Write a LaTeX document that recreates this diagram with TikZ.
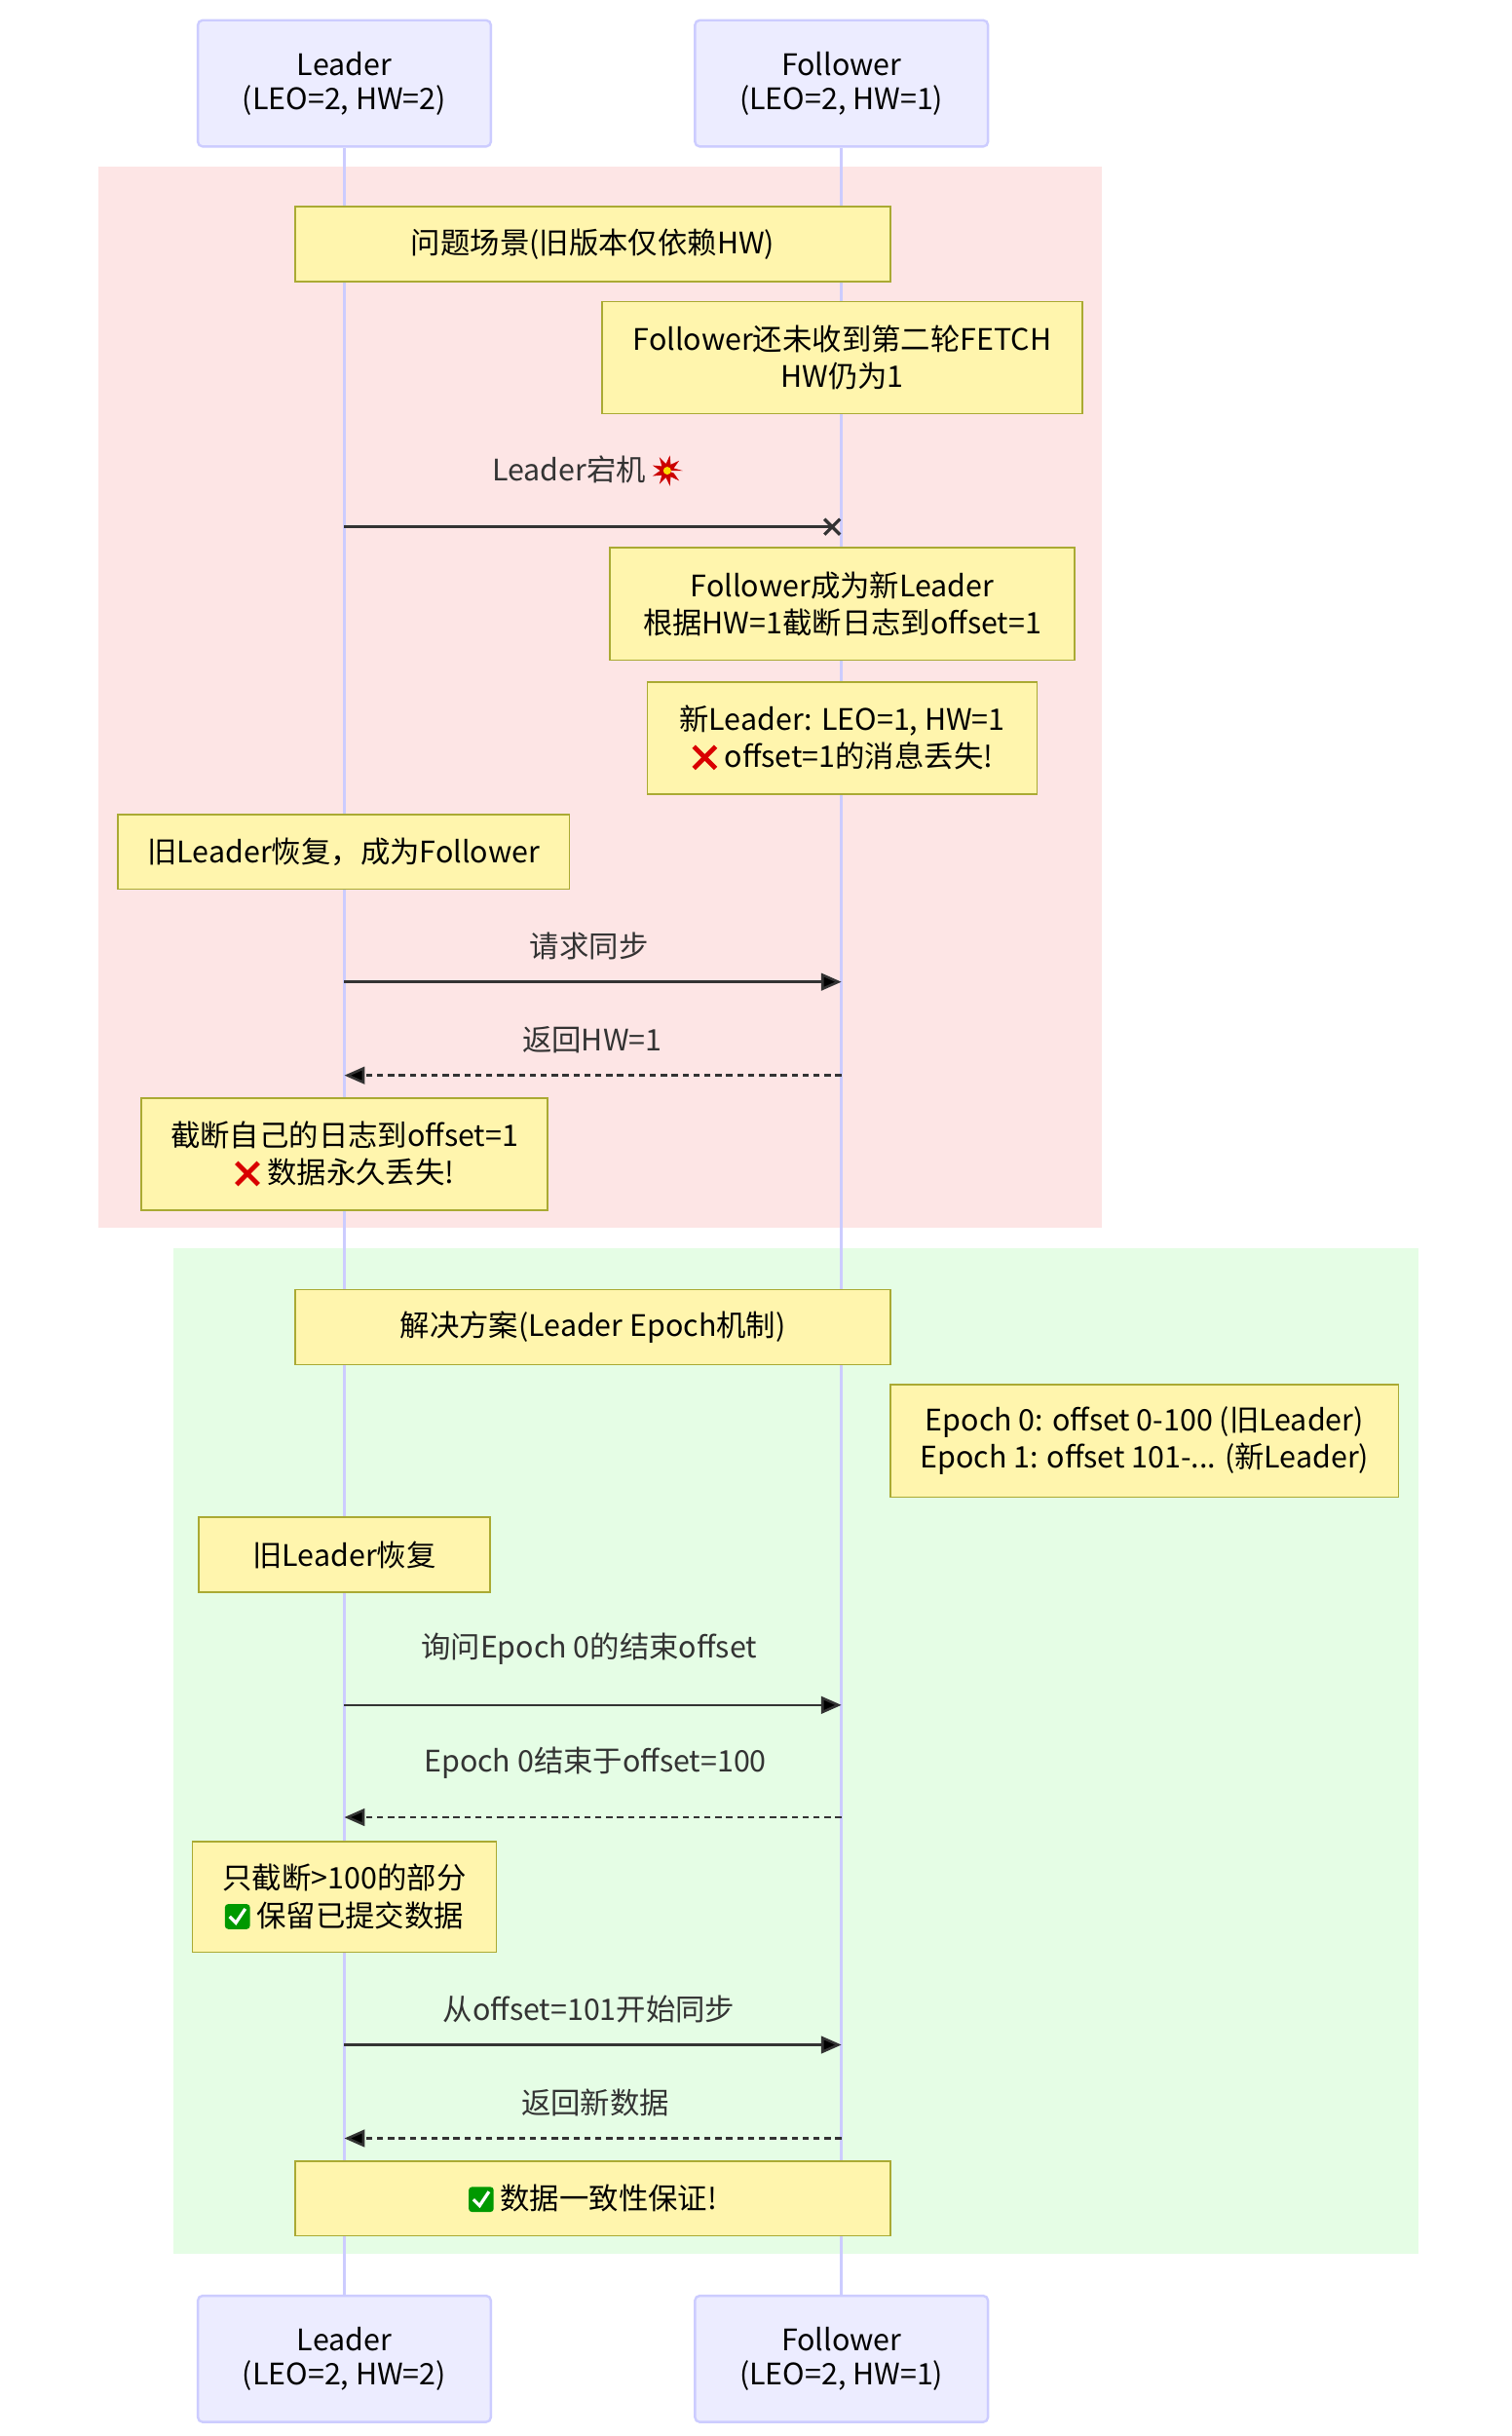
\documentclass[tikz,border=0pt]{standalone}
\usepackage{fontspec}
\setmainfont{Noto Sans CJK SC}
\usetikzlibrary{arrows.meta,shapes.misc}
\definecolor{actfill}{HTML}{ECECFF}
\definecolor{actdraw}{HTML}{CCCCFF}
\definecolor{notefill}{HTML}{FFF5AD}
\definecolor{notedraw}{HTML}{AAAA33}
\definecolor{pinkbg}{HTML}{FDE5E5}
\definecolor{greenbg}{HTML}{E5FDE5}
\definecolor{txt}{HTML}{333333}
\newcommand{\redx}{\tikz[baseline=-6.5pt,x=1pt,y=1pt]{\draw[red!85!black,line width=3pt] (0,-7)--(14,7) (0,7)--(14,-7);}}
\newcommand{\okbox}{\tikz[baseline=-6.5pt,x=1pt,y=1pt]{\fill[green!60!black,rounded corners=2pt] (0,-8) rectangle (16,8);\draw[white,line width=2pt] (3,0)--(7,-4)--(13,5);}}
\newcommand{\boom}{\tikz[baseline=-6.5pt,x=1pt,y=1pt]{\fill[red!80!black] (0,0) \foreach \a in {0,40,...,320}{-- ({\a}:10) -- ({\a+20}:4.5)} -- cycle;\fill[yellow!80!orange] (0,0) circle (2.5);}}
\tikzset{
  actor/.style={draw=actdraw,fill=actfill,rounded corners=3pt,minimum width=188pt,minimum height=81pt,align=center,font=\fontsize{19}{22}\selectfont,text=black,line width=1.5pt},
  note/.style={draw=notedraw,fill=notefill,align=center,font=\fontsize{19}{24}\selectfont,text=black,line width=1pt,anchor=north west,inner sep=0pt},
  lifeline/.style={draw=actdraw,line width=2pt},
  msg/.style={draw=txt,line width=1.6pt,-{Triangle[length=13pt,width=11pt]}},
  reply/.style={msg,dash pattern=on 4pt off 3pt},
  lbl/.style={text=txt,font=\fontsize{19}{22}\selectfont}
}
\begin{document}
\begin{tikzpicture}[x=1pt,y=-1pt]
\useasboundingbox (0,0) rectangle (970,1563);
\fill[white] (0,0) rectangle (970,1563);
\fill[pinkbg] (63,107) rectangle (707,788);
\fill[greenbg] (111,801) rectangle (910,1446);
\node[actor] (L) at (221,53.5) {Leader\\(LEO=2, HW=2)};
\node[actor] (F) at (540,53.5) {Follower\\(LEO=2, HW=1)};
\node[actor] (Lb) at (221,1513.5) {Leader\\(LEO=2, HW=2)};
\node[actor] (Fb) at (540,1513.5) {Follower\\(LEO=2, HW=1)};
\path[lifeline] (L) -- (Lb) (F) -- (Fb);
% notes
\newcommand{\nt}[6]{\node[note,minimum width=#3-#2,minimum height=#5-#4] (#1) at (#2,#4) {#6};}
\nt{n1}{189}{571}{132}{180}{问题场景(旧版本仅依赖HW)}
\nt{n2}{386}{694}{193}{265}{Follower还未收到第二轮FETCH\\HW仍为1}
\nt{n3}{391}{689}{351}{423}{Follower成为新Leader\\根据HW=1截断日志到offset=1}
\nt{n4}{415}{665}{437}{509}{新Leader: LEO=1, HW=1\\\redx{} offset=1的消息丢失!}
\nt{n5}{75}{365}{522}{570}{旧Leader恢复，成为Follower}
\nt{n6}{90}{351}{704}{776}{截断自己的日志到offset=1\\\redx{} 数据永久丢失!}
\nt{n7}{189}{571}{827}{875}{解决方案(Leader Epoch机制)}
\nt{n8}{571}{897}{888}{960}{Epoch 0: offset 0-100 (旧Leader)\\Epoch 1: offset 101-... (新Leader)}
\nt{n9}{127}{314}{973}{1021}{旧Leader恢复}
\nt{n10}{123}{318}{1181}{1252}{只截断>100的部分\\\okbox{} 保留已提交数据}
\nt{n11}{189}{571}{1386}{1434}{\okbox{} 数据一致性保证!}
% messages
\foreach \n/\y in {1/338,2/630,3/690,4/1094,5/1166,6/1312,7/1372}{
  \coordinate (l\n) at (221,\y); \coordinate (f\n) at (540,\y);}
\coordinate (x1) at (534,338);
\draw[txt,line width=1.6pt] (l1) -- (x1);
\draw[txt,line width=2pt] ([shift={(-5,-5)}]x1) -- ([shift={(5,5)}]x1) ([shift={(-5,5)}]x1) -- ([shift={(5,-5)}]x1);
\node[lbl] at (377,302) {Leader宕机 \boom};
\draw[msg] (l2) -- (f2); \node[lbl] at (378,607) {请求同步};
\draw[reply] (f3) -- (l3); \node[lbl] at (380,667) {返回HW=1};
\draw[msg] (l4) -- (f4); \node[lbl] at (378,1058) {询问Epoch 0的结束offset};
\draw[reply] (f5) -- (l5); \node[lbl] at (382,1131) {Epoch 0结束于offset=100};
\draw[msg] (l6) -- (f6); \node[lbl] at (378,1289) {从offset=101开始同步};
\draw[reply] (f7) -- (l7); \node[lbl] at (382,1349) {返回新数据};
\end{tikzpicture}
\end{document}
